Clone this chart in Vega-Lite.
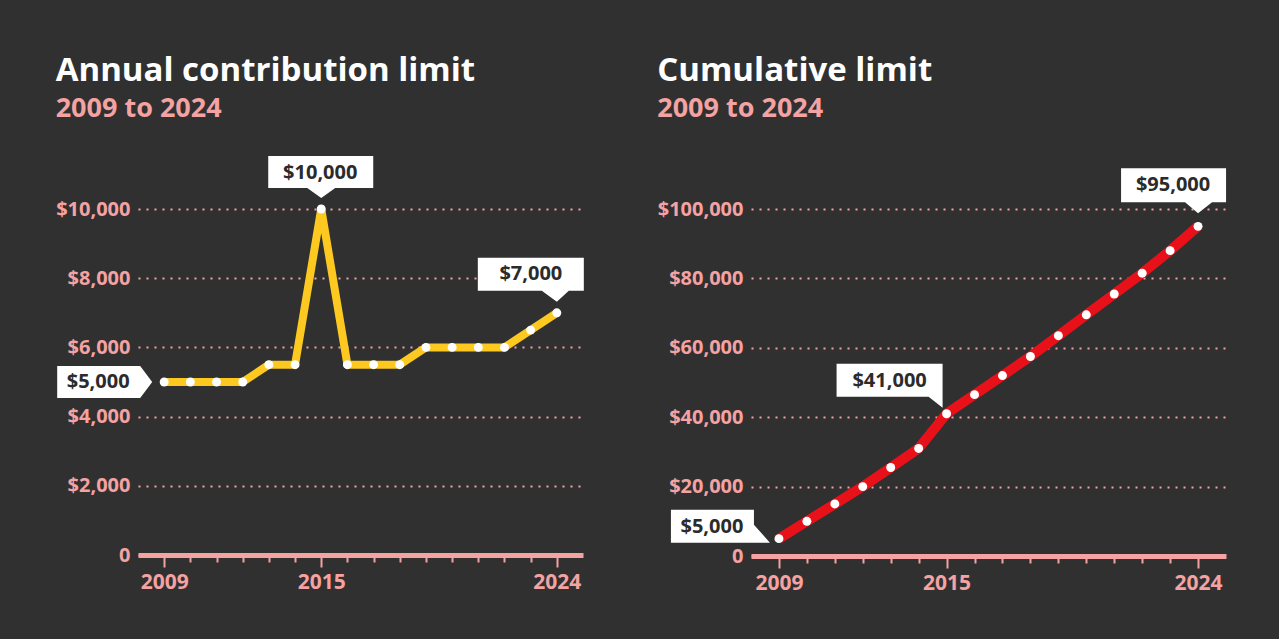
{
  "$schema": "https://vega.github.io/schema/vega-lite/v6.json",
  "background": "#303030",
  "padding": {"left": 55, "top": 55, "right": 52, "bottom": 46},
  "spacing": 73,
  "datasets": {
    "limits": [
      {"year": 2009, "annual": 5000, "cumulative": 5000},
      {"year": 2010, "annual": 5000, "cumulative": 10000},
      {"year": 2011, "annual": 5000, "cumulative": 15000},
      {"year": 2012, "annual": 5000, "cumulative": 20000},
      {"year": 2013, "annual": 5500, "cumulative": 25500},
      {"year": 2014, "annual": 5500, "cumulative": 31000},
      {"year": 2015, "annual": 10000, "cumulative": 41000},
      {"year": 2016, "annual": 5500, "cumulative": 46500},
      {"year": 2017, "annual": 5500, "cumulative": 52000},
      {"year": 2018, "annual": 5500, "cumulative": 57500},
      {"year": 2019, "annual": 6000, "cumulative": 63500},
      {"year": 2020, "annual": 6000, "cumulative": 69500},
      {"year": 2021, "annual": 6000, "cumulative": 75500},
      {"year": 2022, "annual": 6000, "cumulative": 81500},
      {"year": 2023, "annual": 6500, "cumulative": 88000},
      {"year": 2024, "annual": 7000, "cumulative": 95000}
    ]
  },
  "config": {
    "view": {"stroke": null},
    "font": "Open Sans",
    "title": {
      "anchor": "start",
      "frame": "bounds",
      "font": "Open Sans",
      "fontSize": 33,
      "fontWeight": 700,
      "color": "#ffffff",
      "subtitleFont": "Open Sans",
      "subtitleFontSize": 27,
      "subtitleFontWeight": 700,
      "subtitleColor": "#f4a2a2",
      "subtitlePadding": 8
    },
    "axisY": {
      "domain": false,
      "ticks": false,
      "grid": true,
      "gridColor": "#f4a2a6",
      "gridDash": [2, 6],
      "gridWidth": 2,
      "labelFont": "Open Sans",
      "labelFontSize": 20,
      "labelFontWeight": 700,
      "labelColor": "#f4a2a2",
      "labelPadding": 8,
      "title": null
    },
    "axisX": {
      "grid": false,
      "domainColor": "#f4a2a2",
      "domainWidth": 5,
      "tickColor": "#f4a2a2",
      "tickWidth": 2,
      "labelFont": "Open Sans",
      "labelFontSize": 21,
      "labelFontWeight": 700,
      "labelColor": "#f4a2a2",
      "labelPadding": 4,
      "labelFlush": false,
      "labelOverlap": false,
      "title": null
    }
  },
  "hconcat": [
    {
      "width": 445,
      "height": 346,
      "title": {"text": "Annual contribution limit", "subtitle": "2009 to 2024", "offset": 34},
      "data": {"name": "limits"},
      "encoding": {
        "x": {
          "field": "year",
          "type": "quantitative",
          "scale": {"domain": [2008, 2025], "nice": false, "zero": false},
          "axis": {
            "values": [2009, 2010, 2011, 2012, 2013, 2014, 2015, 2016, 2017, 2018, 2019, 2020, 2021, 2022, 2023, 2024],
            "labelExpr": "datum.value == 2009 || datum.value == 2015 || datum.value == 2024 ? '' + datum.value : ''",
            "tickSize": {
              "condition": {"test": "datum.value == 2009 || datum.value == 2015 || datum.value == 2024", "value": 12},
              "value": 7
            }
          }
        },
        "y": {
          "field": "annual",
          "type": "quantitative",
          "scale": {"domain": [0, 10000], "nice": false},
          "axis": {
            "values": [0, 2000, 4000, 6000, 8000, 10000],
            "labelExpr": "datum.value == 0 ? '0' : format(datum.value, '$,')"
          }
        }
      },
      "layer": [
        {"mark": {"type": "line", "color": "#fdc921", "strokeWidth": 8, "strokeJoin": "round"}},
        {"mark": {"type": "point", "filled": true, "color": "#ffffff", "opacity": 1, "size": 80}},
        {
          "transform": [{"filter": "datum.year == 2015"}],
          "mark": {"type": "point", "filled": true, "color": "#ffffff", "opacity": 1, "size": 4, "shape": "M-53,-53H52V-21H14L0,-11L-14,-21H-53Z"}
        },
        {
          "transform": [{"filter": "datum.year == 2015"}],
          "mark": {"type": "text", "fontSize": 20, "fontWeight": 700, "color": "#2b2b2b", "dx": -1, "dy": -36},
          "encoding": {"text": {"field": "annual", "format": "$,.0f"}}
        },
        {
          "transform": [{"filter": "datum.year == 2024"}],
          "mark": {"type": "point", "filled": true, "color": "#ffffff", "opacity": 1, "size": 4, "shape": "M-79,-55H27V-22H12L0,-11L-15,-22H-79Z"}
        },
        {
          "transform": [{"filter": "datum.year == 2024"}],
          "mark": {"type": "text", "fontSize": 20, "fontWeight": 700, "color": "#2b2b2b", "dx": -26, "dy": -39},
          "encoding": {"text": {"field": "annual", "format": "$,.0f"}}
        },
        {
          "transform": [{"filter": "datum.year == 2009"}],
          "mark": {"type": "point", "filled": true, "color": "#ffffff", "opacity": 1, "size": 4, "shape": "M-107,-16H-24L-12,0L-24,16H-107Z"}
        },
        {
          "transform": [{"filter": "datum.year == 2009"}],
          "mark": {"type": "text", "fontSize": 20, "fontWeight": 700, "color": "#2b2b2b", "dx": -66, "dy": 0},
          "encoding": {"text": {"field": "annual", "format": "$,.0f"}}
        }
      ]
    },
    {
      "width": 475,
      "height": 347,
      "title": {"text": "Cumulative limit", "subtitle": "2009 to 2024", "offset": 46},
      "data": {"name": "limits"},
      "encoding": {
        "x": {
          "field": "year",
          "type": "quantitative",
          "scale": {"domain": [2008, 2025], "nice": false, "zero": false},
          "axis": {
            "values": [2009, 2010, 2011, 2012, 2013, 2014, 2015, 2016, 2017, 2018, 2019, 2020, 2021, 2022, 2023, 2024],
            "labelExpr": "datum.value == 2009 || datum.value == 2015 || datum.value == 2024 ? '' + datum.value : ''",
            "tickSize": {
              "condition": {"test": "datum.value == 2009 || datum.value == 2015 || datum.value == 2024", "value": 12},
              "value": 7
            }
          }
        },
        "y": {
          "field": "cumulative",
          "type": "quantitative",
          "scale": {"domain": [0, 100000], "nice": false},
          "axis": {
            "values": [0, 20000, 40000, 60000, 80000, 100000],
            "labelExpr": "datum.value == 0 ? '0' : format(datum.value, '$,')"
          }
        }
      },
      "layer": [
        {"mark": {"type": "line", "color": "#e8111a", "strokeWidth": 10, "strokeJoin": "round"}},
        {"mark": {"type": "point", "filled": true, "color": "#ffffff", "opacity": 1, "size": 80}},
        {
          "transform": [{"filter": "datum.year == 2024"}],
          "mark": {"type": "point", "filled": true, "color": "#ffffff", "opacity": 1, "size": 4, "shape": "M-77,-58H28V-24H14L0,-13L-13,-24H-77Z"}
        },
        {
          "transform": [{"filter": "datum.year == 2024"}],
          "mark": {"type": "text", "fontSize": 20, "fontWeight": 700, "color": "#2b2b2b", "dx": -25, "dy": -41},
          "encoding": {"text": {"field": "cumulative", "format": "$,.0f"}}
        },
        {
          "transform": [{"filter": "datum.year == 2015"}],
          "mark": {"type": "point", "filled": true, "color": "#ffffff", "opacity": 1, "size": 4, "shape": "M-110,-50H-4V-6L-18,-17H-110Z"}
        },
        {
          "transform": [{"filter": "datum.year == 2015"}],
          "mark": {"type": "text", "fontSize": 20, "fontWeight": 700, "color": "#2b2b2b", "dx": -57, "dy": -33},
          "encoding": {"text": {"field": "cumulative", "format": "$,.0f"}}
        },
        {
          "transform": [{"filter": "datum.year == 2009"}],
          "mark": {"type": "point", "filled": true, "color": "#ffffff", "opacity": 1, "size": 4, "shape": "M-108,-29H-25V-14L-9,4H-108Z"}
        },
        {
          "transform": [{"filter": "datum.year == 2009"}],
          "mark": {"type": "text", "fontSize": 20, "fontWeight": 700, "color": "#2b2b2b", "dx": -67, "dy": -12},
          "encoding": {"text": {"field": "cumulative", "format": "$,.0f"}}
        }
      ]
    }
  ]
}
